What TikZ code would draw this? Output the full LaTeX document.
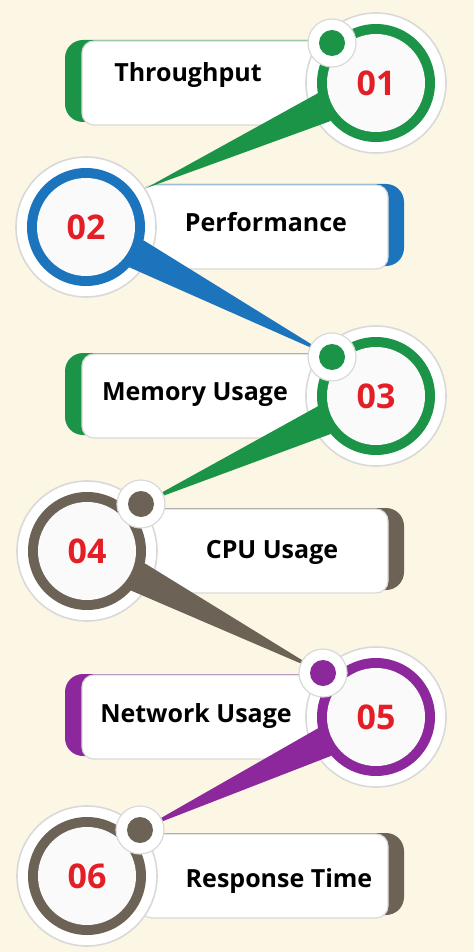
\documentclass[tikz,border=0pt]{standalone}
\usepackage{fontspec}
\setmainfont{Open Sans}
\usetikzlibrary{positioning}
\definecolor{bgcream}{RGB}{252,247,228}
\definecolor{grn}{RGB}{28,148,72}
\definecolor{blu}{RGB}{28,117,188}
\definecolor{brn}{RGB}{108,99,86}
\definecolor{pur}{RGB}{140,40,155}
\definecolor{numred}{RGB}{228,30,38}
\pgfdeclarelayer{back}
\pgfdeclarelayer{mid}
\pgfsetlayers{back,mid,main}

\begin{document}
\begin{tikzpicture}[
    x=0.5pt, y=-0.5pt,
    halo/.style={circle, fill=white, draw=gray!30, line width=0.8pt, minimum size=70pt, inner sep=0pt},
    ring/.style={circle, fill=#1, minimum size=59pt, inner sep=0pt, outer sep=0pt},
    num/.style={circle, fill=gray!4, minimum size=49pt, inner sep=0pt, text=numred, font=\fontsize{17}{17}\selectfont\bfseries},
    pinhalo/.style={circle, fill=white, draw=gray!30, line width=0.6pt, minimum size=24pt, inner sep=0pt},
    dot/.style={circle, fill=#1, minimum size=13pt, inner sep=0pt},
    tab/.style={rectangle, fill=#1, rounded corners=9pt, minimum width=132pt, minimum height=41pt},
    card/.style={rectangle, fill=white, draw=gray!30, line width=0.6pt, rounded corners=6pt, minimum width=124pt, minimum height=42pt},
    itemtext/.style={anchor=base, inner sep=0pt, font=\fontsize{12.5}{12.5}\selectfont\bfseries}
]
\begin{pgfonlayer}{back}
    \path[use as bounding box, fill=bgcream] (0,0) rectangle (474,952);

    \node[tab=grn] (A1) at (197,81) {};
    \node[card] (B1) at (206,83) {};
    \node[itemtext] (T1) at (188,82) {Throughput};
    \node[tab=blu] (A2) at (272,225) {};
    \node[card] (B2) at (264,227) {};
    \node[itemtext] (T2) at (266,232) {Performance};
    \node[tab=grn] (A3) at (197,394) {};
    \node[card] (B3) at (206,396) {};
    \node[itemtext] (T3) at (195,400) {Memory Usage};
    \node[tab=brn] (A4) at (272,549) {};
    \node[card] (B4) at (264,551) {};
    \node[itemtext] (T4) at (272,558) {CPU Usage};
    \node[tab=pur] (A5) at (197,715) {};
    \node[card] (B5) at (206,717) {};
    \node[itemtext] (T5) at (196,722) {Network Usage};
    \node[tab=brn] (A6) at (272,874) {};
    \node[card] (B6) at (264,876) {};
    \node[itemtext] (T6) at (279,887) {Response Time};

    \node[halo] (H1) at (376,83) {};
    \node[halo] (H2) at (86,227) {};
    \node[halo] (H3) at (376,396) {};
    \node[halo] (H4) at (87,551) {};
    \node[halo] (H5) at (376,717) {};
    \node[halo] (H6) at (87,876) {};
\end{pgfonlayer}

    \node[ring=grn] (C1) at (H1) {};
    \node[ring=blu] (C2) at (H2) {};
    \node[ring=grn] (C3) at (H3) {};
    \node[ring=brn] (C4) at (H4) {};
    \node[ring=pur] (C5) at (H5) {};
    \node[ring=brn] (C6) at (H6) {};
    \node[num] (N1) at (C1) {01};
    \node[num] (N2) at (C2) {02};
    \node[num] (N3) at (C3) {03};
    \node[num] (N4) at (C4) {04};
    \node[num] (N5) at (C5) {05};
    \node[num] (N6) at (C6) {06};

    \node[pinhalo] (E1) at (332,43) {};
    \node[dot=grn] (D1) at (E1) {};
    \node[pinhalo] (E3) at (332,357) {};
    \node[dot=grn] (D3) at (E3) {};
    \node[pinhalo] (E4) at (141,504) {};
    \node[dot=brn] (D4) at (E4) {};
    \node[pinhalo] (E5) at (323,673) {};
    \node[dot=pur] (D5) at (E5) {};
    \node[pinhalo] (E6) at (140,830) {};
    \node[dot=brn] (D6) at (E6) {};

\begin{pgfonlayer}{mid}
    \fill[grn] (C1.190) -- (C1.220) -- (H2.33) -- cycle;
    \fill[blu] (C2.-13) -- (C2.-43) -- (D3.center) -- cycle;
    \fill[grn] (C3.190) -- (C3.220) -- (D4.center) -- cycle;
    \fill[brn] (C4.-12) -- (C4.-42) -- (D5.center) -- cycle;
    \fill[pur] (C5.191) -- (C5.221) -- (D6.center) -- cycle;
\end{pgfonlayer}
\end{tikzpicture}
\end{document}
